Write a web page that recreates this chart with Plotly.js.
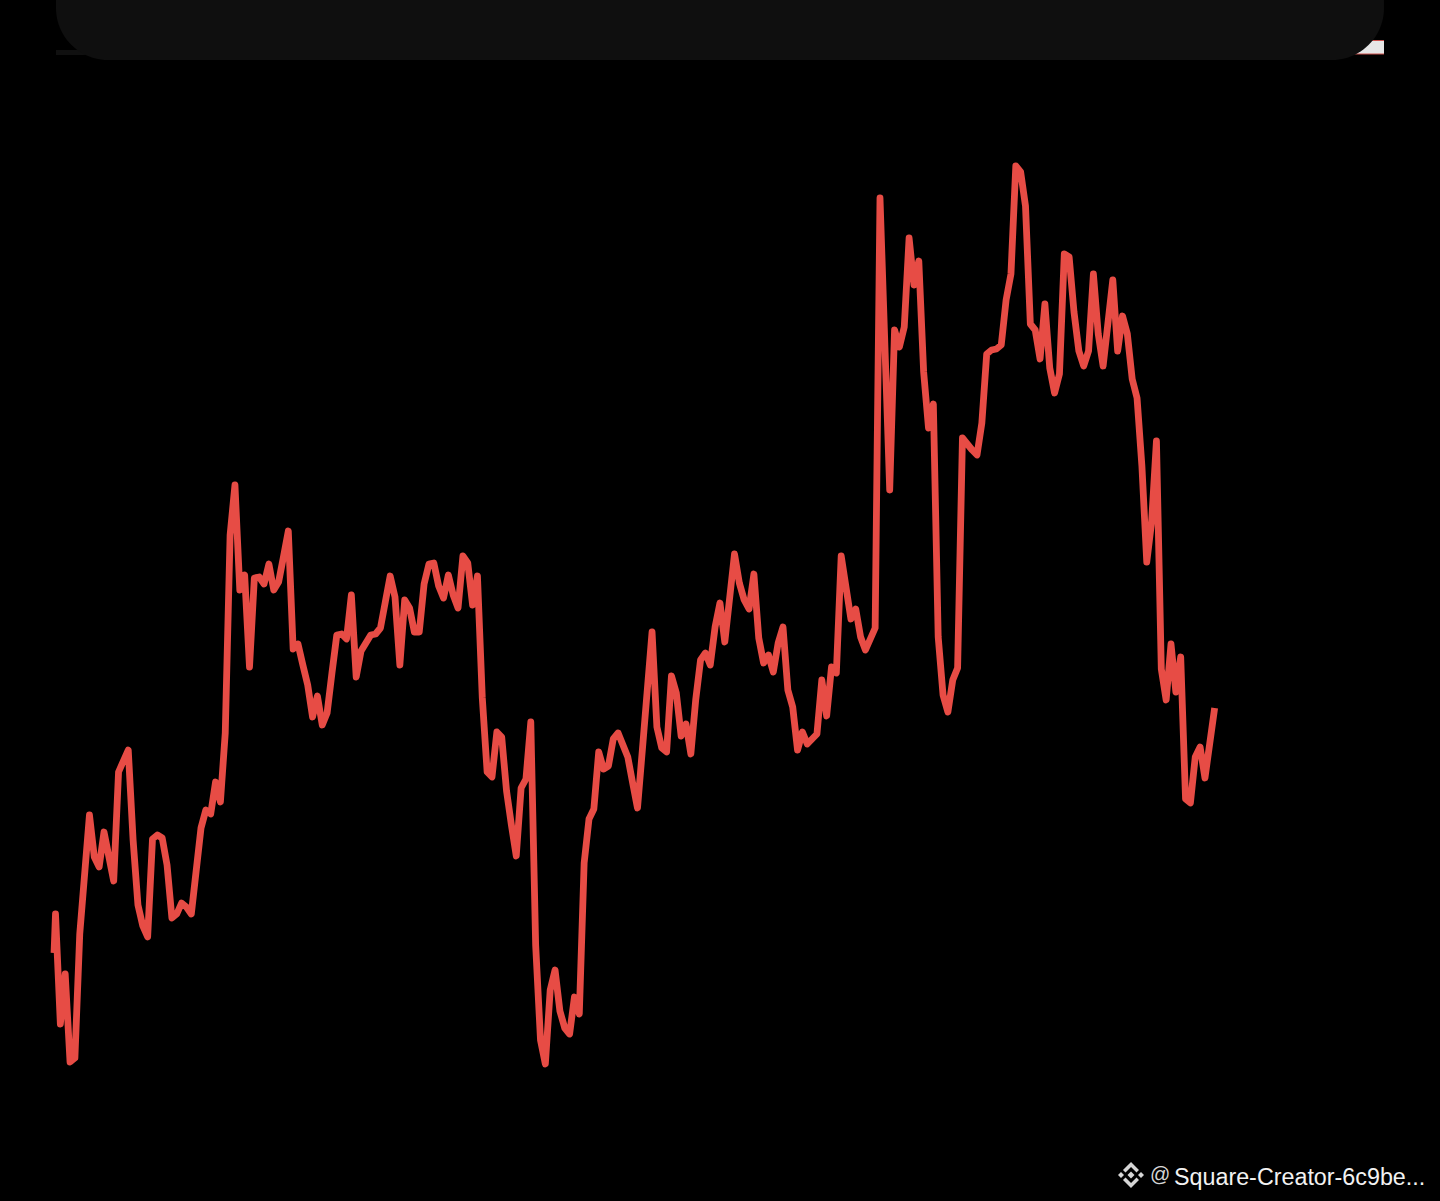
<!DOCTYPE html>
<html>
<head>
<meta charset="utf-8">
<script src="https://cdn.plot.ly/plotly-3.0.1.min.js"></script>
<style>html,body{margin:0;padding:0;background:#000}#chart{width:1440px;height:1201px}
.scatterlayer .js-line{stroke-linejoin:round !important}</style>
</head>
<body>
<div id="chart"></div>
<script>
// Series (no axis is printed, so the unit is arbitrary)
const firstStepOffset = -0.3;
const seriesValues = [
248,287,177,227,139,143,267,326,386,344,334,369,342,320,429,441,451,361,296,275,
264,362,366,363,336,283,287,298,294,287,326,373,391,387,419,399,468,666,716,611,
626,534,623,624,617,637,611,619,644,670,552,557,536,516,484,505,476,488,528,566,
567,562,606,524,550,557,566,567,573,599,625,604,536,601,593,569,569,617,637,638,
615,603,626,606,593,645,638,596,625,503,429,424,469,464,410,376,345,413,422,479,
256,161,137,211,231,190,173,167,204,187,338,382,392,449,432,435,462,468,455,444,
418,393,451,518,569,474,453,449,525,508,465,477,447,501,541,548,536,574,598,559,
604,647,618,601,592,627,563,538,546,529,558,574,511,494,451,469,457,461,467,521,
485,534,528,645,618,582,592,564,551,561,573,1003,854,711,871,854,874,963,916,940,
829,773,797,564,506,489,521,533,763,756,751,746,778,847,851,852,856,901,927,1035,
1029,995,877,871,842,897,833,808,827,947,944,889,850,835,850,927,867,835,884,921,
850,885,867,822,803,735,639,679,760,532,501,557,509,544,402,398,444,454,423,458,493
];
const steps = seriesValues.map((v, i) => i === 0 ? firstStepOffset : i - 1);

const lineColor = '#e74c45';
const panelColor = '#0f0f0f';
const watermarkText = 'Square-Creator-6c9be...';
const watermarkAt = '@';

const W = 1440, H = 1201;
const px = x => x / W;
const py = y => 1 - y / H;
const pathOf = pts => 'M' + pts.map(p => px(p[0]).toFixed(5) + ',' + py(p[1]).toFixed(5)).join('L') + 'Z';

function roundedPanel(x0, x1, y1, r) {
  const pts = [];
  pts.push([x0, -10], [x1, -10]);
  for (let k = 0; k <= 24; k++) {
    const a = Math.PI / 2 * k / 24;
    pts.push([x1 - r + r * Math.cos(a), y1 - r + r * Math.sin(a)]);
  }
  for (let k = 0; k <= 24; k++) {
    const a = Math.PI / 2 + Math.PI / 2 * k / 24;
    pts.push([x0 + r + r * Math.cos(a), y1 - r + r * Math.sin(a)]);
  }
  return pathOf(pts);
}
const logoX = 1131, logoY = 1175;
const logo = shape => pathOf(shape.map(p => [logoX + p[0], logoY + p[1]]));
const logoParts = [
  [[0,-13],[8,-5],[5.5,-2.5],[0,-8],[-5.5,-2.5],[-8,-5]],
  [[0,13],[8,5],[5.5,2.5],[0,8],[-5.5,2.5],[-8,5]],
  [[-10,-3],[-7,0],[-10,3],[-13,0]],
  [[10,-3],[13,0],[10,3],[7,0]],
  [[0,-3.5],[3.5,0],[0,3.5],[-3.5,0]]
];
const paperShape = o => Object.assign({xref:'paper', yref:'paper', layer:'above'}, o);

const shapes = [
  paperShape({type:'rect', x0:px(56), x1:px(100), y0:py(55), y1:py(50), fillcolor:'#101010', line:{width:0}}),
  paperShape({type:'rect', x0:px(1340), x1:px(1384), y0:py(54), y1:py(40.5), fillcolor:'#e6e6e6', line:{width:0}}),
  paperShape({type:'rect', x0:px(1340), x1:px(1384), y0:py(41), y1:py(40), fillcolor:'#c9504c', line:{width:0}}),
  paperShape({type:'rect', x0:px(1340), x1:px(1384), y0:py(54.5), y1:py(53.5), fillcolor:'#c9504c', line:{width:0}}),
  paperShape({type:'path', path:roundedPanel(56, 1384, 60, 52), fillcolor:panelColor, line:{width:0}})
].concat(logoParts.map(p => paperShape({type:'path', path:logo(p), fillcolor:'#d6d6d6', line:{width:0}})));

const data = [{
  type:'scatter', mode:'lines', x:steps, y:seriesValues,
  line:{color:lineColor, width:6.8, shape:'linear'}, hoverinfo:'skip'
}];
const layout = {
  width:W, height:H, margin:{l:0,r:0,t:0,b:0},
  paper_bgcolor:'#000', plot_bgcolor:'#000', showlegend:false,
  xaxis:{range:[-55.5/4.85,(W-55.5)/4.85], visible:false, fixedrange:true},
  yaxis:{range:[0,H], visible:false, fixedrange:true},
  shapes:shapes,
  annotations:[
    {xref:'paper', yref:'paper', x:px(1172), y:py(1177), xanchor:'left', yanchor:'middle', showarrow:false,
     text:watermarkText, font:{family:'"Liberation Sans", Arial, sans-serif', size:23.3, color:'#f2f2f2'}},
    {xref:'paper', yref:'paper', x:px(1160), y:py(1174), xanchor:'center', yanchor:'middle', showarrow:false,
     text:watermarkAt, font:{family:'"Liberation Sans", Arial, sans-serif', size:20, color:'#d6d6d6'}}
  ]
};
Plotly.newPlot('chart', data, layout, {displayModeBar:false, staticPlot:true});
</script>
</body>
</html>
